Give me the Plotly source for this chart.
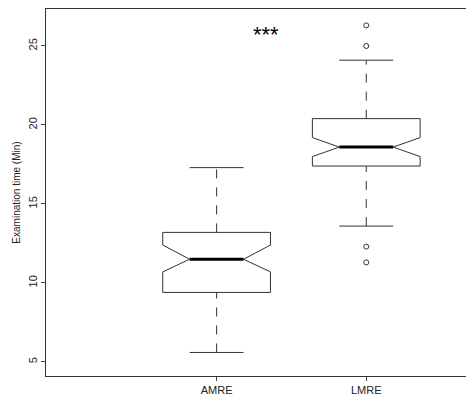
import plotly.graph_objects as go

groups = ["AMRE", "LMRE"]
lower_whisker = [5.6, 13.6]
q1 = [9.4, 17.4]
notch_low = [10.7, 18.0]
median = [11.5, 18.6]
notch_high = [12.4, 19.2]
q3 = [13.2, 20.4]
upper_whisker = [17.3, 24.1]
outlier_group = [1, 1, 1, 1]
outlier_values = [26.3, 25.0, 12.3, 11.3]

hw, nw, cw = 0.36, 0.18, 0.18
fig = go.Figure()
for i in range(len(groups)):
    xs = [i-hw, i+hw, i+hw, i+nw, i+hw, i+hw, i-hw, i-hw, i-nw, i-hw, i-hw]
    ys = [q1[i], q1[i], notch_low[i], median[i], notch_high[i], q3[i], q3[i], notch_high[i], median[i], notch_low[i], q1[i]]
    fig.add_trace(go.Scatter(x=xs, y=ys, mode="lines", line=dict(color="#333", width=1)))
    fig.add_trace(go.Scatter(x=[i-nw, i+nw], y=[median[i]]*2, mode="lines", line=dict(color="black", width=3)))
    for a, b in [(lower_whisker[i], q1[i]), (q3[i], upper_whisker[i])]:
        fig.add_trace(go.Scatter(x=[i, i], y=[a, b], mode="lines", line=dict(color="#333", width=1, dash="dash")))
    for v in [lower_whisker[i], upper_whisker[i]]:
        fig.add_trace(go.Scatter(x=[i-cw, i+cw], y=[v, v], mode="lines", line=dict(color="#333", width=1)))
fig.add_trace(go.Scatter(x=outlier_group, y=outlier_values, mode="markers",
                         marker=dict(symbol="circle-open", size=5, color="#333")))
fig.add_annotation(x=0.33, y=25.7, text="***", showarrow=False, font=dict(size=22, color="black"))
fig.update_layout(width=474, height=406, showlegend=False, plot_bgcolor="white", paper_bgcolor="white",
                  margin=dict(l=38, r=2, t=1, b=38), font=dict(family="Liberation Sans", size=11, color="#222"))
fig.update_xaxes(range=[-1.14, 1.76], tickvals=[0, 1], ticktext=groups, showgrid=False, zeroline=False,
                 showline=True, mirror=True, linecolor="#333", ticks="outside", ticklen=4, automargin=False)
fig.update_yaxes(range=[4.11, 27.34], tickvals=[5, 10, 15, 20, 25], tickangle=-90, showgrid=False, zeroline=False,
                 showline=True, mirror=True, linecolor="#333", ticks="outside", ticklen=4, automargin=False,
                 title=dict(text="Examination time (Min)", font=dict(size=10), standoff=4))
fig.write_html("out.html")
